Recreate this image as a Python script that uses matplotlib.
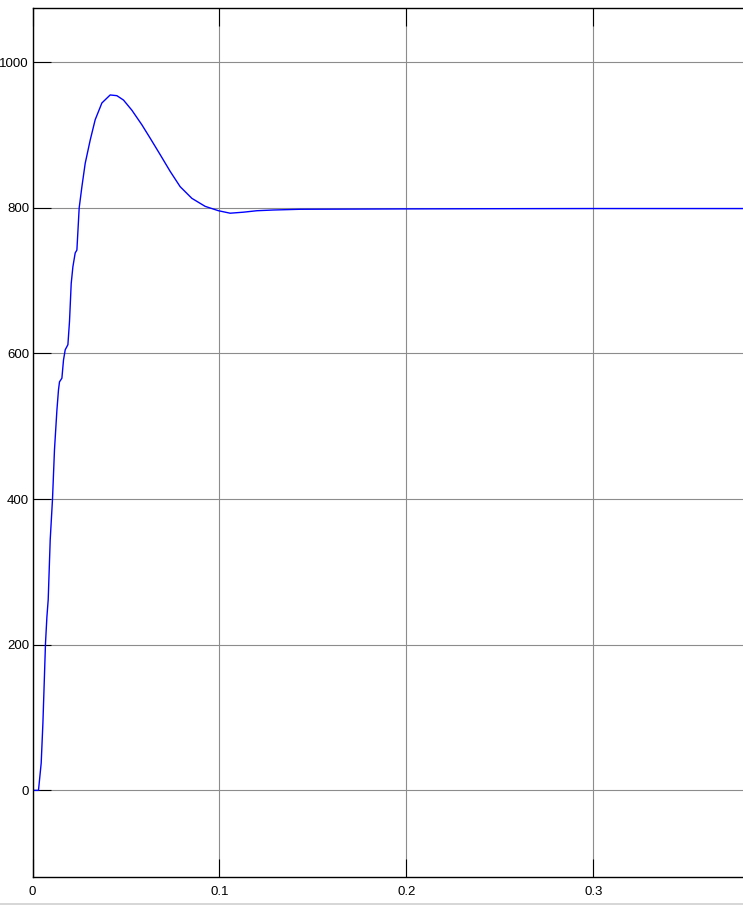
import matplotlib

matplotlib.use("Agg")
import matplotlib.pyplot as plt
from matplotlib.lines import Line2D

# speed response
t = [0.0, 0.0032, 0.00465, 0.00556, 0.00626, 0.00695, 0.0077, 0.0084, 0.00947,
     0.0107, 0.01176, 0.01305, 0.0139, 0.01444, 0.01572, 0.01658, 0.01749,
     0.01893, 0.01979, 0.0207, 0.0216, 0.02283, 0.02374, 0.02497, 0.02642,
     0.02818, 0.03086, 0.03353, 0.03711, 0.04155, 0.04513, 0.04866, 0.05316,
     0.0585, 0.06294, 0.06829, 0.07364, 0.07898, 0.08524, 0.09235, 0.09947,
     0.1057, 0.1128, 0.12, 0.1289, 0.1432, 0.197, 0.25, 0.30, 0.38]
speed = [0, 0, 37.5, 92, 147, 202, 238, 262, 344,
         400, 468, 522, 550, 561, 566, 591, 605,
         612, 644, 696, 719, 738, 742, 800, 829,
         861, 893, 921, 944, 955, 954, 948, 934,
         914, 895.6, 873, 850, 829, 813, 802, 796,
         792.6, 794, 796, 797, 798, 798.5, 798.8, 799, 799]

x_ticks = [0, 0.1, 0.2, 0.3]
x_labels = ["0", "0.1", "0.2", "0.3"]
y_ticks = [0, 200, 400, 600, 800, 1000]

W, H = 743, 907
fig = plt.figure(figsize=(W / 100, H / 100), dpi=100)
left, top, bottom = 32.5, 8.3, 877.0
ax = fig.add_axes([left / W, 1 - bottom / H, 1 - left / W, (bottom - top) / H])

ax.plot(t, speed, color="#0000ff", linewidth=1.0)

ax.set_xlim(0, 0.38)
ax.set_ylim(-119, 1074)
ax.set_xticks(x_ticks)
ax.set_xticklabels(x_labels)
ax.set_yticks(y_ticks)

ax.grid(True, color="#8c8c8c", linewidth=0.8)
ax.tick_params(axis="both", direction="in", length=13, width=0.8, color="black",
               labelsize=9.5, top=True, right=False, labelfontfamily="Liberation Sans")
ax.tick_params(axis="x", pad=6.5)
ax.tick_params(axis="y", pad=2.5)
for side in ["left", "top", "bottom"]:
    ax.spines[side].set_linewidth(1.0)
    ax.spines[side].set_color("black")
ax.spines["right"].set_visible(False)

# thin frame line along the bottom of the window
fig.add_artist(Line2D([0, 1], [1 - 903.5 / H, 1 - 903.5 / H], transform=fig.transFigure,
                      color="#d0d0d0", linewidth=1.2))

fig.savefig("out.png", dpi=100)
